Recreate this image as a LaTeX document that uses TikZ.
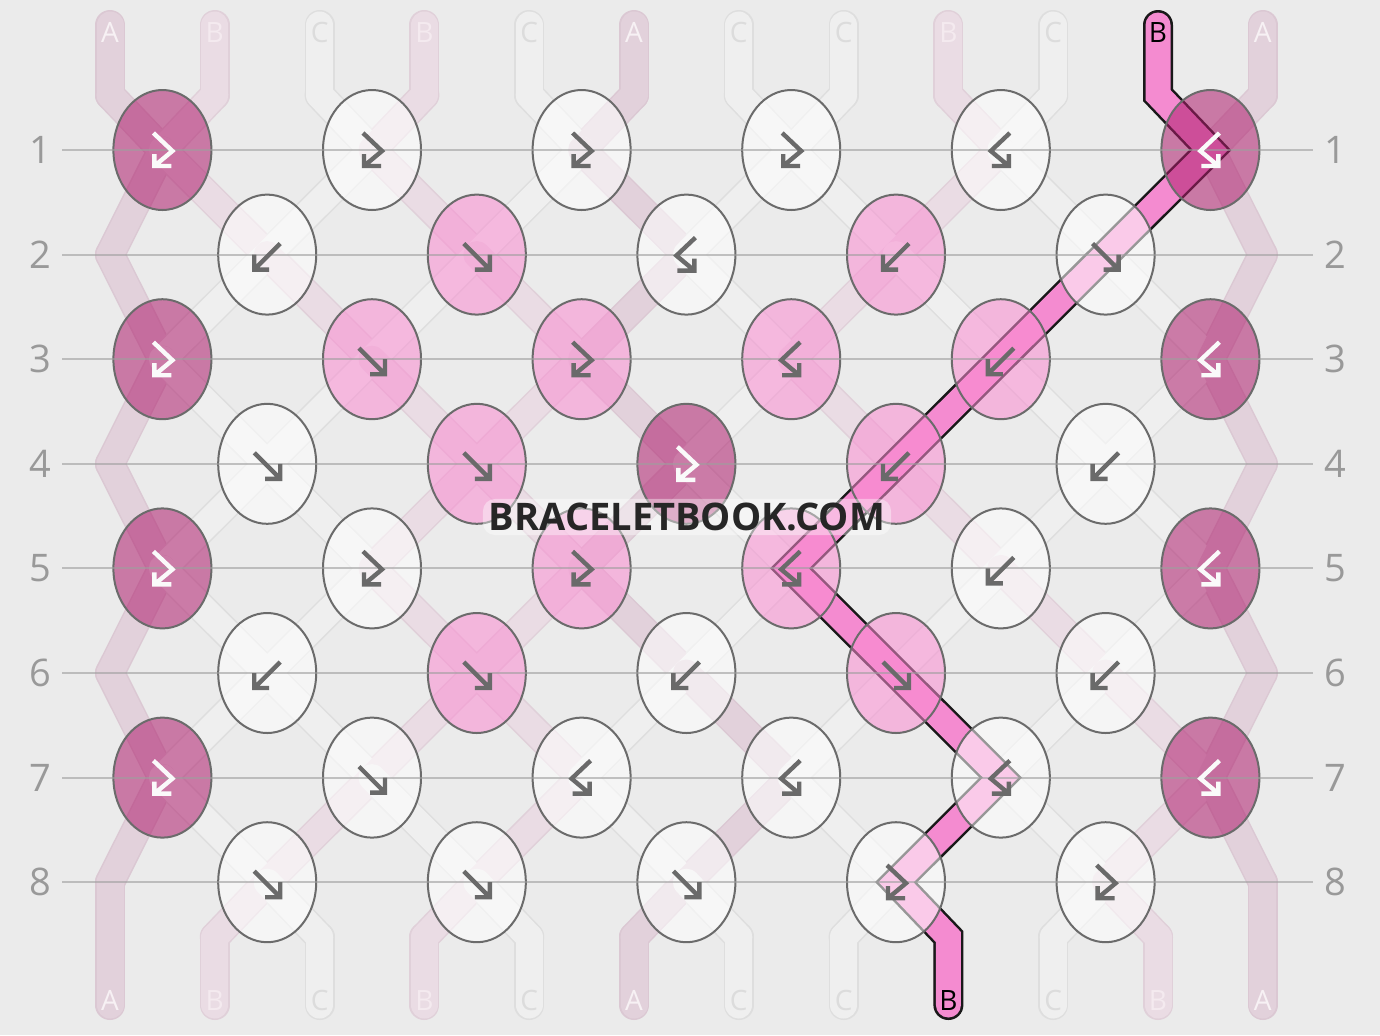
\documentclass[tikz,border=0pt]{standalone}
\usepackage{fontspec}
\setmainfont{Open Sans}
\usetikzlibrary{shapes.geometric}

\definecolor{bgc}{HTML}{EBEBEB}
\definecolor{oA}{HTML}{DBC8D3}
\definecolor{fA}{HTML}{E2D1DB}
\definecolor{oB}{HTML}{E0D0D9}
\definecolor{fB}{HTML}{EADCE4}
\definecolor{oC}{HTML}{DEDEDE}
\definecolor{fC}{HTML}{EFEFEF}
\definecolor{lA}{HTML}{F7F1F4}
\definecolor{lB}{HTML}{F4EAEF}
\definecolor{lC}{HTML}{DCDCDC}
\definecolor{kA}{HTML}{AE1C6C}
\definecolor{kB}{HTML}{FA8CD1}
\definecolor{kC}{HTML}{FFFFFF}
\definecolor{aA}{HTML}{FAFAFA}
\definecolor{aB}{HTML}{6A6A6A}
\definecolor{aC}{HTML}{6A6A6A}
\definecolor{hlpink}{HTML}{F48BD0}
\definecolor{rowgray}{HTML}{9E9E9E}

\tikzset{
  strand/.style={line cap=round, line join=round},
  knot/.style={ellipse, draw=black!58, line width=1pt, fill opacity=0.55,
    minimum width=49pt, minimum height=60pt, inner sep=0pt},
  kpic/.style={line width=2.2pt, line join=miter},
  rowline/.style={draw=rowgray, line width=1pt, opacity=0.6},
  rowlbl/.style={text=black!40, font=\fontsize{19pt}{19pt}\selectfont, inner sep=5.5pt},
  endlbl/.style={font=\fontsize{14pt}{14pt}\selectfont, inner sep=0pt},
  wm/.style={font=\bfseries\fontsize{19pt}{19pt}\selectfont, text=black!85,
    fill=white, fill opacity=0.4, text opacity=1, rounded corners=6pt,
    inner xsep=3pt, inner ysep=2pt},
  pics/kF/.style={code={\draw[kpic] (-13,-11) -- (13,15) (13,0) -- (13,15) -- (-2,15);}},
  pics/kB/.style={code={\draw[kpic] (13,-11) -- (-13,15) (-13,0) -- (-13,15) -- (2,15);}},
  pics/kFB/.style={code={\draw[kpic] (-9,-17) -- (10,1) -- (-8,16) (-8,4) -- (-8,16) -- (9,16);}},
  pics/kBF/.style={code={\draw[kpic] (9,-17) -- (-10,1) -- (8,16) (8,4) -- (8,16) -- (-9,16);}},
}

\def\ends{A,B,C,B,C,A,C,C,B,C,B,A}
\def\states{0/{A,B,C,B,C,A,C,C,B,C,B,A},%
1/{A,B,C,B,C,A,C,C,B,C,B,A},%
2/{A,C,B,C,B,A,C,B,C,B,C,A},%
3/{A,C,C,B,B,A,C,B,B,C,C,A},%
4/{A,C,C,B,B,A,C,B,B,C,C,A},%
5/{A,C,C,B,B,A,C,B,C,B,C,A},%
6/{A,C,C,B,B,C,A,C,B,C,B,A},%
7/{A,C,B,C,B,C,A,C,B,C,B,A},%
8/{A,B,C,B,C,A,C,C,B,C,B,A}}
\def\knots{1/{FB/A,FB/C,FB/C,FB/C,BF/C,BF/A},%
2/{B/C,F/B,BF/C,B/B,F/C},%
3/{FB/A,F/B,FB/B,BF/B,B/B,BF/A},%
4/{F/C,F/B,FB/A,B/B,B/C},%
5/{FB/A,FB/C,FB/B,BF/B,B/C,BF/A},%
6/{B/C,F/B,B/C,F/B,B/C},%
7/{FB/A,F/C,BF/C,BF/C,BF/C,BF/A},%
8/{F/C,F/C,F/C,FB/C,FB/C}}

\begin{document}
\begin{tikzpicture}[x=0.5pt,y=-0.5pt]
\fill[bgc] (0,0) rectangle (1380,1035);
\useasboundingbox (0,0) rectangle (1380,1035);

\foreach \r in {1,...,8} {
  \pgfmathsetmacro\yy{150+104.6*(\r-1)}
  \ifodd\r
    \foreach \k in {1,...,6} \coordinate (k-\r-\k) at ({110+104.8*(2*\k-1.5)},\yy);
  \else
    \foreach \k in {1,...,5} \coordinate (k-\r-\k) at ({110+104.8*(2*\k-0.5)},\yy);
  \fi
}

\foreach \p in {0,...,11} {
  \pgfmathsetmacro\xx{110+104.8*\p}
  \coordinate (t-\p) at (\xx,32);
  \coordinate (s-0-\p) at (\xx,95);
  \coordinate (s-9-\p) at (\xx,937);
  \coordinate (b-\p) at (\xx,1000);
  \foreach \r in {1,...,8} {
    \ifodd\r
      \pgfmathtruncatemacro\k{div(\p,2)+1}
      \coordinate (s-\r-\p) at (k-\r-\k);
    \else
      \pgfmathtruncatemacro\k{div(\p+1,2)}
      \ifnum\k=0 \coordinate (s-\r-\p) at (\xx,{150+104.6*(\r-1)});
      \else\ifnum\k=6 \coordinate (s-\r-\p) at (\xx,{150+104.6*(\r-1)});
      \else \coordinate (s-\r-\p) at (k-\r-\k); \fi\fi
    \fi
  }
}

\foreach \w/\pre in {15pt/o,13.5pt/f} {
  \foreach \c [count=\p from 0] in \ends
    \draw[strand, line width=\w, draw=\pre\c, shorten <=-3.5pt] (t-\p) -- (s-0-\p);
  \foreach \c [count=\p from 0] in \ends
    \draw[strand, line width=\w, draw=\pre\c, shorten >=-2.5pt] (s-9-\p) -- (b-\p);
  \foreach \r/\st in \states {
    \pgfmathtruncatemacro\rr{\r+1}
    \foreach \c [count=\p from 0] in \st
      \draw[strand, line width=\w, draw=\pre\c] (s-\r-\p) -- (s-\rr-\p);
  }
}

\draw[line width=15pt, draw=black!90, line cap=round, line join=miter,
      postaction={draw=hlpink, line width=12.5pt}, shorten <=-3.5pt, shorten >=-2.5pt]
  (t-10) -- (s-0-10) -- (k-1-6) -- (k-2-5) -- (k-3-5) -- (k-4-4) -- (k-5-4)
  -- (k-6-4) -- (k-7-5) -- (k-8-4) -- (s-9-8) -- (b-8);

\foreach \c [count=\p from 0] in \ends {
  \ifnum\p=10 \def\tc{black}\else\def\tc{l\c}\fi
  \ifnum\p=8 \def\bc{black}\else\def\bc{l\c}\fi
  \node[endlbl, text=\tc] (tl-\p) at (t-\p) {\c};
  \node[endlbl, text=\bc] (bl-\p) at (b-\p) {\c};
}

\foreach \r/\row in \knots
  \foreach \t/\c [count=\k] in \row
    \node[knot, fill=k\c] (n-\r-\k) at (k-\r-\k) {};

\foreach \r in {1,...,8} {
  \node[rowlbl] (ll-\r) at (40,{150+104.6*(\r-1)}) {\r};
  \node[rowlbl] (rl-\r) at (1335,{150+104.6*(\r-1)}) {\r};
  \draw[rowline] (ll-\r) -- (rl-\r);
}

\foreach \r/\row in \knots
  \foreach \t/\c [count=\k] in \row
    \pic[color=a\c] at (n-\r-\k) {k\t};

\node[wm] (mark) at (687,517) {BRACELETBOOK.COM};
\end{tikzpicture}
\end{document}
